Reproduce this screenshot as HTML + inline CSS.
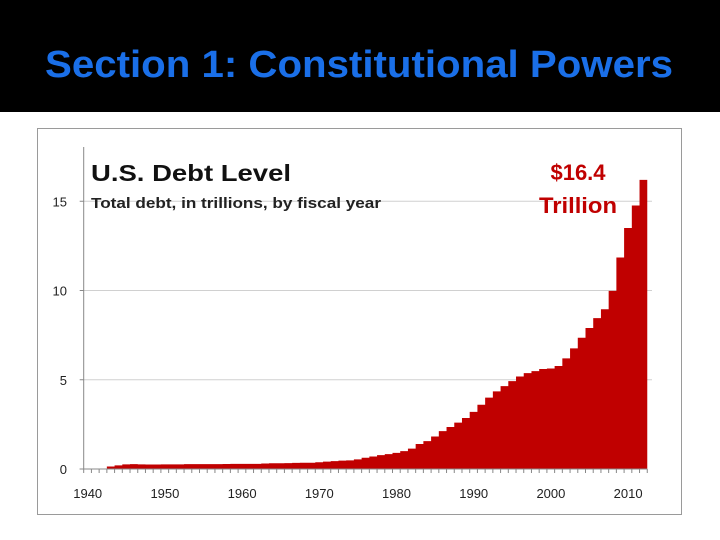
<!DOCTYPE html>
<html><head><meta charset="utf-8"><style>
html,body{margin:0;padding:0;background:#fff;}
svg{display:block;font-family:"Liberation Sans",sans-serif;}
</style></head><body>
<svg id="c" width="720" height="540" xmlns="http://www.w3.org/2000/svg">
<rect x="0" y="0" width="720" height="112" fill="#000"/>
<text x="359" y="77" text-anchor="middle" font-size="38" font-weight="bold" fill="#1a6fe8" textLength="628" lengthAdjust="spacingAndGlyphs">Section 1: Constitutional Powers</text>
<rect x="37.5" y="128.5" width="644" height="386" fill="#fff" stroke="#9a9a9a" stroke-width="1"/>
<g id="grid"></g>
<g id="bars"></g>
<g id="axes"></g>
<text x="91" y="181" font-size="23" font-weight="bold" fill="#111" textLength="200" lengthAdjust="spacingAndGlyphs">U.S. Debt Level</text>
<text x="91" y="208" font-size="15" font-weight="bold" fill="#222" textLength="290" lengthAdjust="spacingAndGlyphs">Total debt, in trillions, by fiscal year</text>
<text x="578" y="180" text-anchor="middle" font-size="22" font-weight="bold" fill="#c00000">$16.4</text>
<text x="578" y="213" text-anchor="middle" font-size="22" font-weight="bold" fill="#c00000" textLength="78" lengthAdjust="spacingAndGlyphs">Trillion</text>
</svg>
<script>
const years=[1943,1944,1945,1946,1947,1948,1949,1950,1951,1952,1953,1954,1955,1956,1957,1958,1959,1960,1961,1962,1963,1964,1965,1966,1967,1968,1969,1970,1971,1972,1973,1974,1975,1976,1977,1978,1979,1980,1981,1982,1983,1984,1985,1986,1987,1988,1989,1990,1991,1992,1993,1994,1995,1996,1997,1998,1999,2000,2001,2002,2003,2004,2005,2006,2007,2008,2009,2010,2011,2012];
const debt=[0.14,0.2,0.26,0.27,0.26,0.25,0.25,0.26,0.26,0.26,0.27,0.27,0.27,0.27,0.27,0.28,0.29,0.29,0.29,0.29,0.31,0.32,0.32,0.33,0.34,0.35,0.35,0.38,0.41,0.44,0.47,0.48,0.54,0.63,0.7,0.78,0.83,0.9,1.0,1.14,1.4,1.56,1.82,2.12,2.35,2.6,2.86,3.2,3.6,4.0,4.35,4.64,4.92,5.18,5.37,5.48,5.6,5.63,5.77,6.2,6.76,7.35,7.9,8.45,8.95,9.98,11.85,13.5,14.76,16.2];
const yTicks=[0,5,10,15];
const xLabels=[1940,1950,1960,1970,1980,1990,2000,2010];
const NS="http://www.w3.org/2000/svg";
const x0=83.7,yr0=1940,step=7.72,base=469,unit=17.85;
const X=y=>x0+(y-yr0)*step;
const Y=v=>base-v*unit;
function mk(t,a,p){const e=document.createElementNS(NS,t);for(const k in a)e.setAttribute(k,a[k]);document.getElementById(p).appendChild(e);return e;}
yTicks.forEach(v=>{
 if(v>0){const g=mk('line',{x1:x0,x2:652,y1:Y(v),y2:Y(v),stroke:'#d0d0d0','stroke-width':1},'grid');
 
 }
 const tk=mk('line',{x1:x0-4,x2:x0,y1:Y(v),y2:Y(v),stroke:'#888'},'axes');
 
 
 const t=mk('text',{x:67,y:Y(v)+5,'text-anchor':'end','font-size':13,fill:'#222'},'axes');
 t.textContent=v;
 
 
});
let d='M'+X(years[0])+','+base;
years.forEach((y,i)=>{d+=' L'+X(y)+','+Y(debt[i])+' L'+(X(y)+step)+','+Y(debt[i]);});
d+=' L'+(X(years[years.length-1])+step)+','+base+' Z';
const area=mk('path',{d:d,fill:'#c00000'},'bars');


const ax=mk('line',{x1:x0,x2:x0,y1:147,y2:base,stroke:'#888'},'axes');


const bx=mk('line',{x1:x0-4,x2:X(2013),y1:base,y2:base,stroke:'#888'},'axes');


for(let y=yr0;y<=2013;y++){
 const t=mk('line',{x1:X(y),x2:X(y),y1:base,y2:base+4,stroke:'#888'},'axes');
 
 
}
xLabels.forEach(y=>{
 const t=mk('text',{x:X(y)+4,y:base+29,'text-anchor':'middle','font-size':13,fill:'#222'},'axes');
 t.textContent=y;
 
 
});
</script>
</body></html>
